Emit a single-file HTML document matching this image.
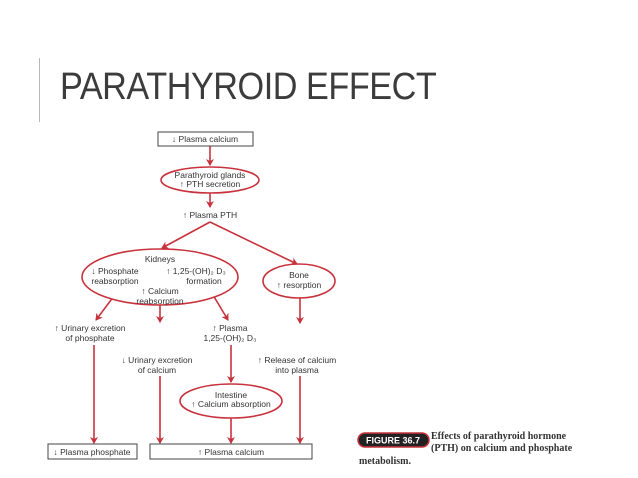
<!DOCTYPE html>
<html><head><style>
html,body{margin:0;padding:0;background:#fff;}
body{width:638px;height:478px;position:relative;overflow:hidden;}
.t{position:absolute;left:60px;top:66px;font:38px "Liberation Sans",sans-serif;color:#3c3c3c;letter-spacing:-0.5px;transform:scaleX(0.90);transform-origin:left;}
.bar{position:absolute;left:39px;top:58px;width:1px;height:64px;background:#b8b8b8;}
</style></head><body>
<div class="bar"></div>
<div class="t">PARATHYROID EFFECT</div>
<svg width="638" height="478" style="position:absolute;left:0;top:0" font-family="Liberation Sans, sans-serif" font-size="8.5" fill="#333">
<defs><marker id="a" markerWidth="8" markerHeight="8" refX="6" refY="4" orient="auto" markerUnits="userSpaceOnUse"><path d="M0,0 L7,4 L0,8 L2,4 z" fill="#c8323c"/></marker></defs>
<g stroke="#c8323c" stroke-width="1.6" fill="none" marker-end="url(#a)">
<line x1="210" y1="146" x2="210" y2="165"/>
<line x1="210" y1="193" x2="210" y2="207"/>
<line x1="210" y1="222" x2="162" y2="248"/>
<line x1="210" y1="222" x2="297" y2="264"/>
<line x1="120" y1="288" x2="96" y2="320"/>
<line x1="160" y1="305" x2="160" y2="322"/>
<line x1="210" y1="290" x2="228" y2="320"/>
<line x1="300" y1="298" x2="300" y2="323"/>
<line x1="94" y1="345" x2="94" y2="443"/>
<line x1="160" y1="376" x2="160" y2="443"/>
<line x1="231" y1="345" x2="231" y2="382"/>
<line x1="231" y1="418" x2="231" y2="443"/>
<line x1="300" y1="376" x2="300" y2="443"/>
</g>
<g stroke="#c8323c" stroke-width="1.6" fill="#fff">
<ellipse cx="210" cy="180" rx="49" ry="13"/>
<ellipse cx="160" cy="277" rx="78" ry="28"/>
<ellipse cx="299" cy="281" rx="36" ry="17"/>
<ellipse cx="231" cy="401" rx="51" ry="17"/>
</g>
<g stroke="#444" stroke-width="1" fill="#fff">
<rect x="158" y="132" width="95" height="14"/>
<rect x="48" y="444" width="89" height="15"/>
<rect x="150" y="444" width="162" height="15"/>
</g>
<g text-anchor="middle">
<text x="205" y="142">↓ Plasma calcium</text>
<text x="210" y="178">Parathyroid glands</text>
<text x="210" y="187">↑ PTH secretion</text>
<text x="210" y="218">↑ Plasma PTH</text>
<text x="160" y="262">Kidneys</text>
<text x="115" y="274">↓ Phosphate</text>
<text x="115" y="284">reabsorption</text>
<text x="196" y="274">↑ 1,25-(OH)₂ D₃</text>
<text x="204" y="284">formation</text>
<text x="160" y="294">↑ Calcium</text>
<text x="160" y="304">reabsorption</text>
<text x="299" y="278">Bone</text>
<text x="299" y="288">↑ resorption</text>
<text x="90" y="331">↑ Urinary excretion</text>
<text x="90" y="341">of phosphate</text>
<text x="230" y="331">↑ Plasma</text>
<text x="230" y="341">1,25-(OH)₂ D₃</text>
<text x="157" y="363">↓ Urinary excretion</text>
<text x="157" y="373">of calcium</text>
<text x="297" y="363">↑ Release of calcium</text>
<text x="297" y="373">into plasma</text>
<text x="231" y="398">Intestine</text>
<text x="231" y="407">↑ Calcium absorption</text>
<text x="92" y="455">↓ Plasma phosphate</text>
<text x="231" y="455">↑ Plasma calcium</text>
</g>
<rect x="358" y="433" width="71" height="14" rx="7" fill="#222" stroke="#c8323c" stroke-width="1.5"/>
<text x="393" y="443.5" text-anchor="middle" fill="#fff" font-weight="bold" font-size="9">FIGURE 36.7</text>
<g font-family="Liberation Serif, serif" font-weight="bold" font-size="10" fill="#333">
<text x="431" y="439">Effects of parathyroid hormone</text>
<text x="431" y="451">(PTH) on calcium and phosphate</text>
<text x="359" y="464">metabolism.</text>
</g>
</svg>
</body></html>
